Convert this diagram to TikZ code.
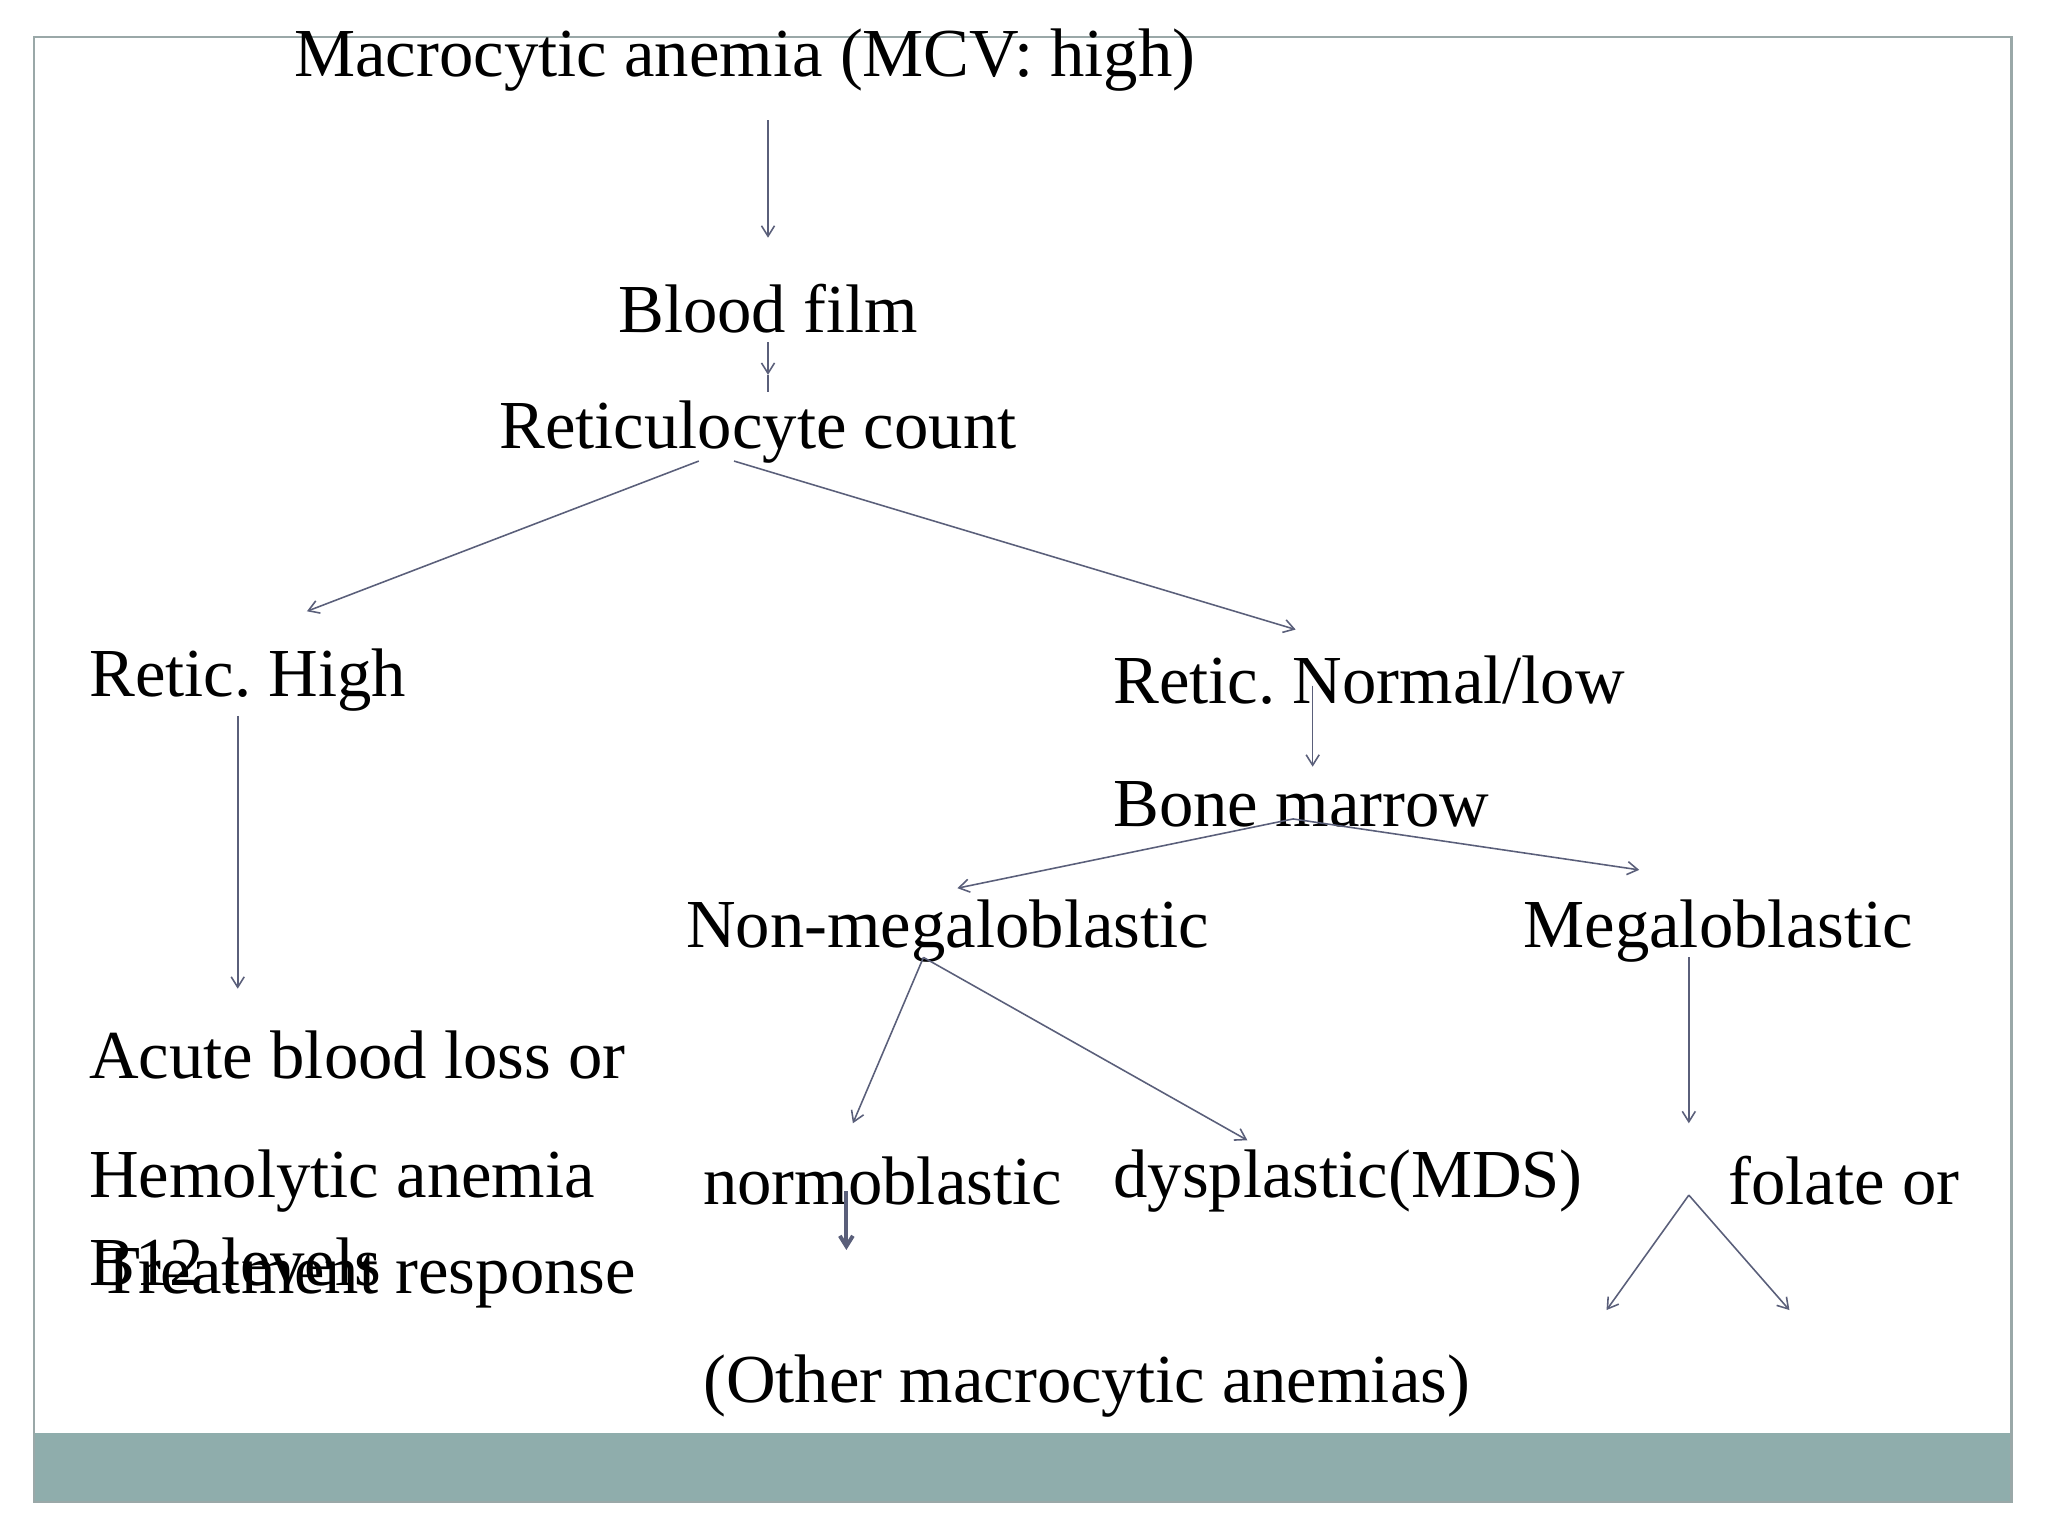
\documentclass[tikz,border=0pt]{standalone}
\usepackage{fontspec}
\setmainfont{Liberation Serif}
\usetikzlibrary{arrows.meta}
\definecolor{arr}{HTML}{5A5F7A}
\definecolor{band}{HTML}{8FADAC}
\definecolor{frame}{HTML}{9AA8A8}
\tikzset{
 lbl/.style={anchor=west,inner sep=0pt,yshift=-0.5pt,font=\fontsize{26.3}{30}\selectfont},
 con/.style={draw=arr,line width=0.6pt,-{Straight Barb[length=4pt,width=5pt]}}
}
\begin{document}
\begin{tikzpicture}[x=0.5pt,y=-0.5pt]
\useasboundingbox (0,0) rectangle (1568,1176);
\fill[white] (0,0) rectangle (1568,1176);
\fill[band] (26,1097) rectangle (1540,1150);
\draw[frame,line width=0.8pt] (26,28) rectangle (1540,1150);
\node[lbl] (t1) at (225,45) {Macrocytic anemia (MCV: high)};
\node[lbl] (t2) at (473,235) {Blood film};
\node[lbl] (t3) at (382,330) {Reticulocyte count};
\node[lbl] (t4) at (68,520) {Retic.\ High};
\node[lbl] (t5) at (852,520) {Retic.\ Normal/low};
\node[lbl] (t6) at (852,615) {Bone marrow};
\node[lbl] (t7) at (525,712) {Non-megaloblastic};
\node[lbl] (t8) at (1166,712) {Megaloblastic};
\node[lbl] (t9) at (68,807) {Acute blood loss or};
\node[lbl] (t10) at (68,903) {Hemolytic anemia};
\node[lbl] (t11) at (538,903) {normoblastic};
\node[lbl] (t12) at (852,903) {dysplastic(MDS)};
\node[lbl] (t13) at (1323,903) {folate or};
\node[lbl] (t14) at (68,965) {B12 levels};
\node[lbl] (t15) at (75,978) {Treatment response};
\node[lbl] (t16) at (538,1060) {(Other macrocytic anemias)};
\coordinate (a1) at (588,92); \coordinate (b1) at (588,182);
\coordinate (a2) at (588,262); \coordinate (b2) at (588,287); \coordinate (c2) at (588,300);
\coordinate (a3) at (535,353); \coordinate (b3) at (235,468);
\coordinate (a4) at (562,353); \coordinate (b4) at (992,482);
\coordinate (a5) at (182,548); \coordinate (b5) at (182,757);
\coordinate (a6) at (1005,525); \coordinate (b6) at (1005,587);
\coordinate (a7) at (990,627); \coordinate (b7) at (733,680); \coordinate (b8) at (1255,666);
\coordinate (a9) at (707,733); \coordinate (b9) at (653,860); \coordinate (b10) at (955,873);
\coordinate (a11) at (1293,733); \coordinate (b11) at (1293,860);
\coordinate (a12) at (648,912); \coordinate (b12) at (648,957);
\coordinate (a13) at (1293,915); \coordinate (b13) at (1230,1003); \coordinate (b14) at (1370,1003);
\draw[con] (a1)--(b1);
\draw[con] (a2)--(b2); \draw[draw=arr,line width=0.6pt] (b2)--(c2);
\draw[con] (a3)--(b3);
\draw[con] (a4)--(b4);
\draw[con] (a5)--(b5);
\draw[con] (a6)--(b6);
\draw[con] (a7)--(b7);
\draw[con] (a7)--(b8);
\draw[con] (a9)--(b9);
\draw[con] (a9)--(b10);
\draw[con] (a11)--(b11);
\draw[con,line width=1.5pt] (a12)--(b12);
\draw[con] (a13)--(b13);
\draw[con] (a13)--(b14);
\end{tikzpicture}
\end{document}
